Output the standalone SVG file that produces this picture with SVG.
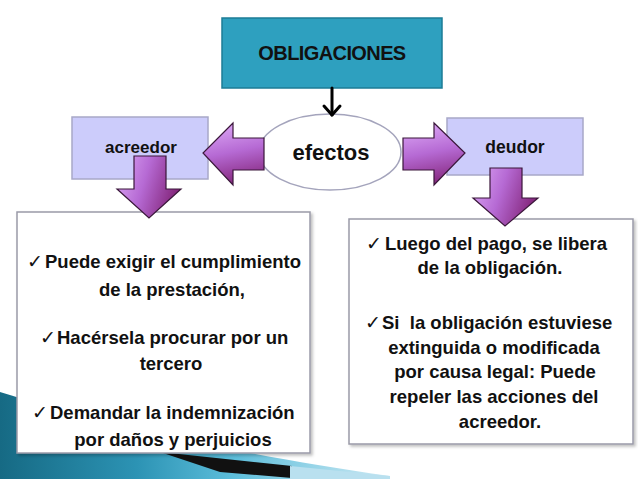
<svg xmlns="http://www.w3.org/2000/svg" width="638" height="479" viewBox="0 0 638 479">
<defs>
<linearGradient id="purpV" x1="0" y1="0" x2="1" y2="0.3">
<stop offset="0" stop-color="#DDA9F6"/>
<stop offset="0.5" stop-color="#B66AD4"/>
<stop offset="1" stop-color="#86297F"/>
</linearGradient>
<linearGradient id="purpH" x1="0.2" y1="0" x2="0.4" y2="1">
<stop offset="0" stop-color="#DDA9F6"/>
<stop offset="0.5" stop-color="#B66AD4"/>
<stop offset="1" stop-color="#86297F"/>
</linearGradient>
<linearGradient id="swoosh" x1="0" y1="0" x2="1" y2="0">
<stop offset="0" stop-color="#166A84"/>
<stop offset="0.35" stop-color="#2C93B4"/>
<stop offset="0.6" stop-color="#5DBEDB"/>
<stop offset="1" stop-color="#CFEAF4"/>
</linearGradient>
<filter id="sh" x="-5%" y="-5%" width="110%" height="110%">
<feDropShadow dx="2" dy="2" stdDeviation="1.5" flood-color="#000" flood-opacity="0.25"/>
</filter>
</defs>
<style>
.t{font-family:"Liberation Sans",Arial,sans-serif;font-weight:bold;fill:#111;}
.b{font-size:18.5px;}
.ck{font-family:"DejaVu Sans",sans-serif;font-weight:normal;font-size:19px;fill:#111;}
.arr{stroke:#3A173A;stroke-width:1.2;}
.lav{fill:#CCCCFB;stroke:#A8A8C8;stroke-width:1.5;}
.panel{fill:#FFFFFF;stroke:#9A9AA8;stroke-width:1.5;}
</style>
<rect width="638" height="479" fill="#FFFFFF"/>
<g id="decoration">
<path d="M0,392 C90,420 220,452 390,476 L390,479 L0,479 Z" fill="url(#swoosh)"/>
<polygon points="160,452 292,466 292,478 220,472" fill="#111111"/>
<polygon points="290,466 390,476 390,479 290,479" fill="#B9E0EF"/>
</g>
<g id="obligaciones">
<rect x="222" y="18" width="220" height="70" fill="#2EA0BF" stroke="#1C7C96" stroke-width="1.5"/>
<text class="t" x="332" y="60" font-size="20" letter-spacing="-0.6" text-anchor="middle">OBLIGACIONES</text>
</g>
<g id="efectos">
<ellipse cx="330" cy="152" rx="71" ry="38" fill="#FFFFFF" stroke="#A4A4BC" stroke-width="1.5"/>
<text class="t" x="331" y="160" font-size="22" text-anchor="middle">efectos</text>
</g>
<g id="acreedor">
<rect x="72" y="117" width="136" height="62" class="lav"/>
<text class="t" x="141" y="153" font-size="17" text-anchor="middle">acreedor</text>
</g>
<g id="deudor">
<rect x="447" y="118" width="136" height="57" class="lav"/>
<text class="t" x="515" y="153" font-size="17.5" text-anchor="middle">deudor</text>
</g>
<g id="efectos-acreedor-panel">
<rect x="17" y="212" width="293" height="241" class="panel" filter="url(#sh)"/>
<text class="ck" x="27" y="268">✓</text>
<text class="t b" x="45" y="268">Puede exigir el cumplimiento</text>
<text class="t b" x="172" y="296" text-anchor="middle">de la prestación,</text>
<text class="ck" x="40" y="344">✓</text>
<text class="t b" x="57" y="344">Hacérsela procurar por un</text>
<text class="t b" x="171" y="370" text-anchor="middle">tercero</text>
<text class="ck" x="32" y="419">✓</text>
<text class="t b" x="50" y="419">Demandar la indemnización</text>
<text class="t b" x="173" y="446" text-anchor="middle">por daños y perjuicios</text>
</g>
<g id="efectos-deudor-panel">
<rect x="349" y="219" width="284" height="225" class="panel" filter="url(#sh)"/>
<text class="ck" x="366" y="250">✓</text>
<text class="t b" x="385" y="250">Luego del pago, se libera</text>
<text class="t b" x="490" y="274" text-anchor="middle">de la obligación.</text>
<text class="ck" x="365" y="329">✓</text>
<text class="t b" x="382" y="329" xml:space="preserve">Si  la obligación estuviese</text>
<text class="t b" x="494" y="354" text-anchor="middle">extinguida o modificada</text>
<text class="t b" x="495" y="378" text-anchor="middle">por causa legal: Puede</text>
<text class="t b" x="494" y="403" text-anchor="middle">repeler las acciones del</text>
<text class="t b" x="500" y="428" text-anchor="middle">acreedor.</text>
</g>
<g id="connectors">
<g fill="none" stroke="#000" stroke-width="3" stroke-linecap="round" stroke-linejoin="round">
<line x1="332" y1="88" x2="332" y2="115"/>
<polyline points="324,106 332,115 340,106"/>
</g>
<polygon class="arr" fill="url(#purpH)" points="264,138 233,138 233,123 203,153 233,185 233,170 264,170"/>
<polygon class="arr" fill="url(#purpH)" points="403,138 434,138 434,123 465,153 434,185 434,170 403,170"/>
<polygon class="arr" fill="url(#purpV)" points="134,156 166,156 166,189 181,189 149,218 117,189 134,189"/>
<polygon class="arr" fill="url(#purpV)" points="490,168 522,168 522,198 538,198 505,226 473,198 490,198"/>
</g>
</svg>
